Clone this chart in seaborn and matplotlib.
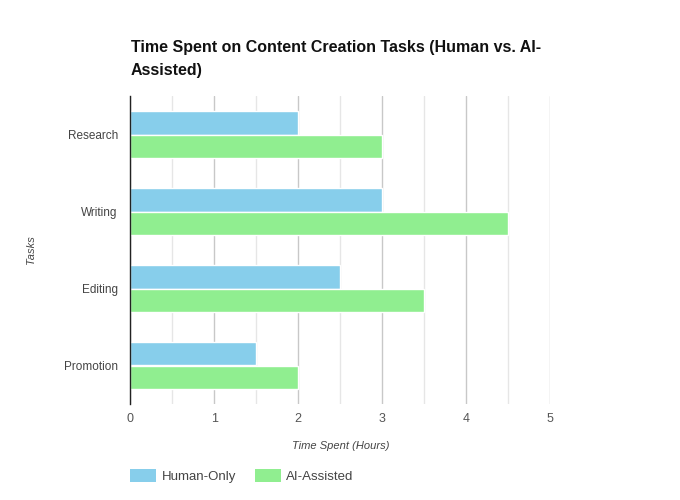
import pandas as pd
import matplotlib.pyplot as plt
from matplotlib.ticker import MultipleLocator
from matplotlib.patches import Patch
import seaborn as sns

# Dados do gráfico
tarefas = ['Research', 'Writing', 'Editing', 'Promotion']
horas_humano = [2, 3, 2.5, 1.5]
horas_ia = [3, 4.5, 3.5, 2]
series = ['Human-Only', 'AI-Assisted']
cores = ['#87CEEB', '#90EE90']

# Tabela longa para o seaborn
dados = pd.DataFrame({
    'tarefa': tarefas * 2,
    'horas': horas_humano + horas_ia,
    'grupo': [series[0]] * len(tarefas) + [series[1]] * len(tarefas),
})

sns.set_theme(style='white')
plt.rcParams['font.family'] = ['Liberation Sans', 'DejaVu Sans']

fig = plt.figure(figsize=(6.8, 5), dpi=100)
ax = fig.add_axes([130.3 / 680, 1 - 404 / 500, 420 / 680, 308 / 500])

sns.barplot(data=dados, x='horas', y='tarefa', hue='grupo', orient='h',
            palette=cores, width=0.62, edgecolor='white', linewidth=1,
            saturation=1, ax=ax, legend=False)

ax.set_xlim(0, 5)
ax.xaxis.set_major_locator(MultipleLocator(1))
ax.xaxis.set_minor_locator(MultipleLocator(0.5))
ax.grid(axis='x', which='major', color='#c8c8c8', linewidth=1)
ax.grid(axis='x', which='minor', color='#e6e6e6', linewidth=1)
ax.set_axisbelow(True)

for lado in ['top', 'right', 'bottom']:
    ax.spines[lado].set_visible(False)
ax.spines['left'].set_color('#222222')
ax.spines['left'].set_linewidth(1)

ax.tick_params(axis='x', which='both', length=0, pad=6.5, labelsize=9, labelcolor='#555555')
ax.tick_params(axis='y', length=0, pad=9, labelsize=8.5, labelcolor='#444444')

ax.set_xlabel('Time Spent (Hours)', fontsize=8, style='italic', color='#444444')
ax.set_ylabel('Tasks', fontsize=8, style='italic', color='#444444')
ax.xaxis.set_label_coords(0.5, -0.12)
ax.yaxis.set_label_coords(-0.225, 0.5)

# Título em duas linhas, alinhado à esquerda
fig.text(131 / 680, 1 - 40 / 500,
         'Time Spent on Content Creation Tasks (Human vs. AI-\nAssisted)',
         ha='left', va='top', fontsize=11.5, fontweight='bold', color='#111111',
         linespacing=1.65)

# Legenda embaixo
alcas = [Patch(facecolor=c, edgecolor='none') for c in cores]
fig.legend(alcas, series, loc='center left', bbox_to_anchor=(130 / 680, 1 - 476 / 500),
           ncol=2, frameon=False, fontsize=9.5, handlelength=2.0, handleheight=1.1,
           handletextpad=0.4, columnspacing=1.4, borderpad=0, borderaxespad=0,
           labelcolor='#444444')

fig.savefig('out.png', dpi=100, facecolor='white')
